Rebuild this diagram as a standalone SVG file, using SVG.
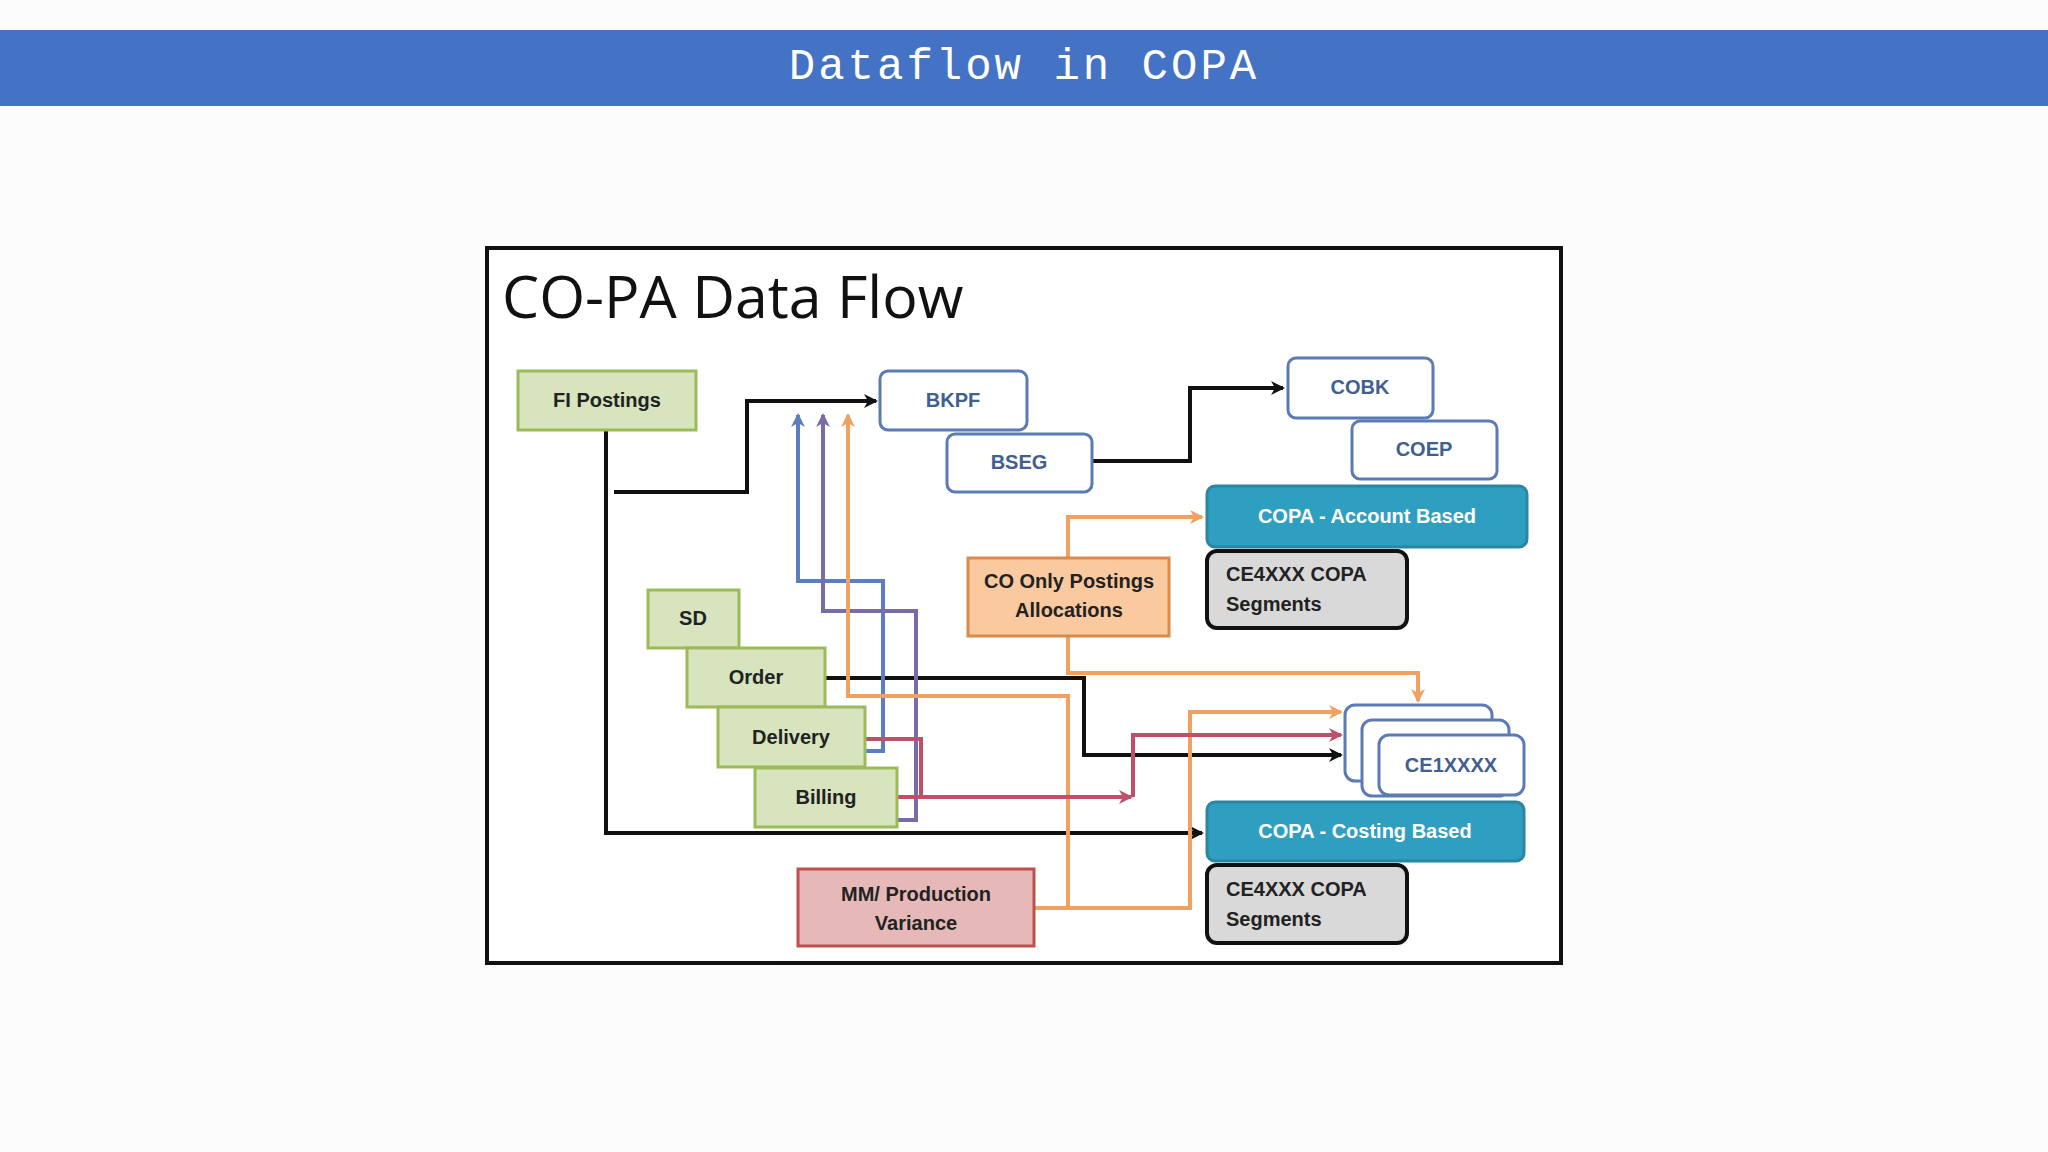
<svg xmlns="http://www.w3.org/2000/svg" width="2048" height="1152" viewBox="0 0 2048 1152">
<defs>
<style>
.t{font-family:"Liberation Sans Narrow","Liberation Sans",Arial,sans-serif;font-weight:bold;font-size:20px;text-anchor:middle;fill:#222}
.s{text-anchor:start}
.bt{fill:#41608f}
.wt{fill:#fff}
.g{fill:#d7e4bd;stroke:#9bbb59;stroke-width:3}
.w{fill:#fff;stroke:#5b7bb5;stroke-width:3}
.gr{fill:#d9d9d9;stroke:#111;stroke-width:4}
.tl{fill:#2f9fc1;stroke:#2b86a3;stroke-width:3}
.c{fill:none;stroke-width:4}
</style>
<marker id="ak" markerWidth="16" markerHeight="16" refX="12" refY="8" orient="auto" markerUnits="userSpaceOnUse"><path d="M0,1 L14,8 L0,15 L4,8Z" fill="#111"/></marker>
<marker id="ab" markerWidth="16" markerHeight="16" refX="12" refY="8" orient="auto" markerUnits="userSpaceOnUse"><path d="M0,1 L14,8 L0,15 L4,8Z" fill="#5a7fbf"/></marker>
<marker id="ap" markerWidth="16" markerHeight="16" refX="12" refY="8" orient="auto" markerUnits="userSpaceOnUse"><path d="M0,1 L14,8 L0,15 L4,8Z" fill="#7a6aa8"/></marker>
<marker id="ao" markerWidth="16" markerHeight="16" refX="12" refY="8" orient="auto" markerUnits="userSpaceOnUse"><path d="M0,1 L14,8 L0,15 L4,8Z" fill="#f0a060"/></marker>
<marker id="ar" markerWidth="16" markerHeight="16" refX="12" refY="8" orient="auto" markerUnits="userSpaceOnUse"><path d="M0,1 L14,8 L0,15 L4,8Z" fill="#c0506a"/></marker>
</defs>
<rect width="2048" height="1152" fill="#fdfcfc"/>
<rect x="0" y="30" width="2048" height="76" fill="#4472c4"/>
<text x="1024" y="79" font-family="'Liberation Mono','DejaVu Sans Mono',monospace" font-size="44" letter-spacing="3" fill="#fff" text-anchor="middle">Dataflow in COPA</text>
<rect x="487" y="248" width="1074" height="715" fill="#fff" stroke="#111" stroke-width="4"/>
<text x="502" y="318" font-family="'Open Sans','Liberation Sans',sans-serif" font-size="59" fill="#111">CO-PA Data Flow</text>

<g id="connectors">
<path class="c" stroke="#111" d="M614,492 H747 V401 H876" marker-end="url(#ak)"/>
<path class="c" stroke="#111" d="M606,430 V833 H1202" marker-end="url(#ak)"/>
<path class="c" stroke="#111" d="M1092,461 H1190 V388 H1283" marker-end="url(#ak)"/>
<path class="c" stroke="#111" d="M825,678 H1084 V755 H1341" marker-end="url(#ak)"/>
<path class="c" stroke="#5a7fbf" d="M846,751 H883 V581 H798 V415" marker-end="url(#ab)"/>
<path class="c" stroke="#7a6aa8" d="M880,820 H916 V611 H823 V415" marker-end="url(#ap)"/>
<path class="c" stroke="#f0a060" d="M1034,908 H1068 V696 H848 V415" marker-end="url(#ao)"/>
<path class="c" stroke="#f0a060" d="M1068,908 H1190 V712 H1341" marker-end="url(#ao)"/>
<path class="c" stroke="#f0a060" d="M1068,558 V517 H1202" marker-end="url(#ao)"/>
<path class="c" stroke="#f0a060" d="M1068,636 V673 H1418 V701" marker-end="url(#ao)"/>
<path class="c" stroke="#c0506a" d="M865,739 H921 V797"/>
<path class="c" stroke="#c0506a" d="M897,797 H1131" marker-end="url(#ar)"/>
<path class="c" stroke="#c0506a" d="M1133,797 V735 H1341" marker-end="url(#ar)"/>
</g>

<g id="fi"><rect class="g" x="518" y="371" width="178" height="59"/><text class="t" x="607" y="407">FI Postings</text></g>
<g id="bkpf"><rect class="w" x="880" y="371" width="147" height="59" rx="8"/><text class="t bt" x="953" y="407">BKPF</text></g>
<g id="bseg"><rect class="w" x="947" y="434" width="145" height="58" rx="8"/><text class="t bt" x="1019" y="469">BSEG</text></g>
<g id="cobk"><rect class="w" x="1288" y="358" width="145" height="60" rx="8"/><text class="t bt" x="1360" y="394">COBK</text></g>
<g id="coep"><rect class="w" x="1352" y="421" width="145" height="58" rx="8"/><text class="t bt" x="1424" y="456">COEP</text></g>
<g id="copa-acc"><rect class="tl" x="1207" y="486" width="320" height="61" rx="8"/><text class="t wt" x="1367" y="523">COPA - Account  Based</text></g>
<g id="ce4-1"><rect class="gr" x="1207" y="551" width="200" height="77" rx="10"/><text class="t s" x="1226" y="581">CE4XXX COPA</text><text class="t s" x="1226" y="611">Segments</text></g>
<g id="co-only"><rect x="968" y="558" width="201" height="78" fill="#fac9a0" stroke="#d98a4c" stroke-width="3"/><text class="t" x="1069" y="588">CO Only Postings</text><text class="t" x="1069" y="617">Allocations</text></g>
<g id="sd"><rect class="g" x="648" y="590" width="91" height="58"/><text class="t" x="693" y="625">SD</text></g>
<g id="order"><rect class="g" x="687" y="648" width="138" height="59"/><text class="t" x="756" y="684">Order</text></g>
<g id="delivery"><rect class="g" x="718" y="707" width="147" height="60"/><text class="t" x="791" y="744">Delivery</text></g>
<g id="billing"><rect class="g" x="755" y="768" width="142" height="59"/><text class="t" x="826" y="804">Billing</text></g>
<g id="ce1"><rect class="w" x="1345" y="705" width="147" height="76" rx="10"/><rect class="w" x="1362" y="720" width="147" height="76" rx="10"/><rect class="w" x="1379" y="735" width="145" height="60" rx="10"/><text class="t bt" x="1451" y="772">CE1XXXX</text></g>
<g id="copa-cost"><rect class="tl" x="1207" y="802" width="317" height="59" rx="8"/><text class="t wt" x="1365" y="838">COPA - Costing  Based</text></g>
<g id="ce4-2"><rect class="gr" x="1207" y="865" width="200" height="78" rx="10"/><text class="t s" x="1226" y="896">CE4XXX COPA</text><text class="t s" x="1226" y="926">Segments</text></g>
<g id="mm"><rect x="798" y="869" width="236" height="77" fill="#e6b9b8" stroke="#c0504d" stroke-width="3"/><text class="t" x="916" y="901">MM/ Production</text><text class="t" x="916" y="930">Variance</text></g>
</svg>
